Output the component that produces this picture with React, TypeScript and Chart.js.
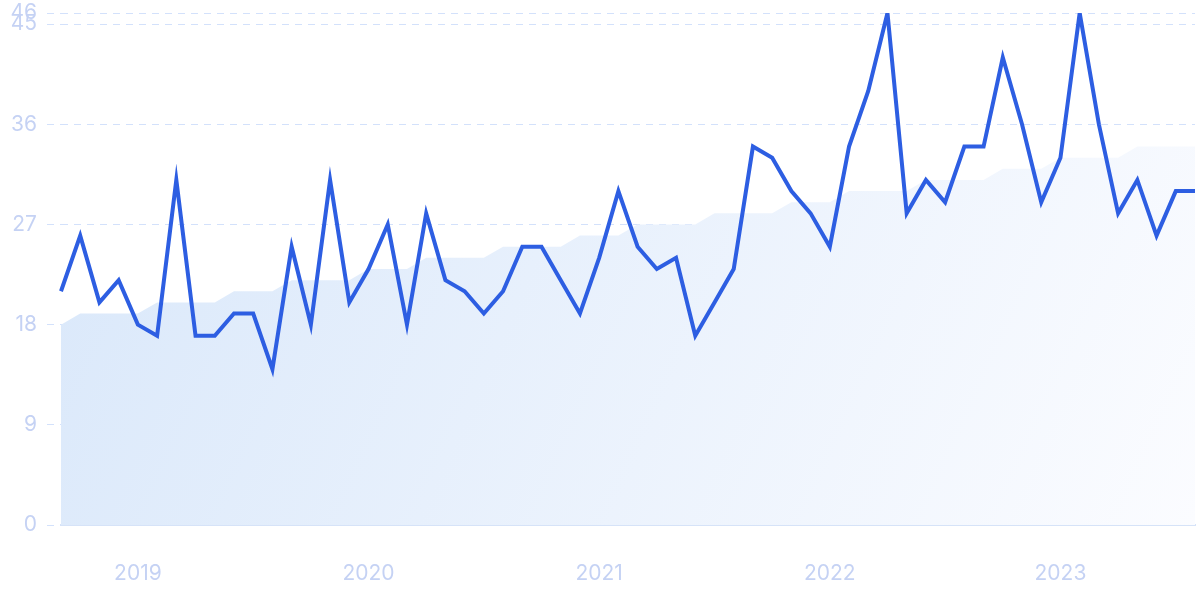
import { useEffect, useRef } from 'react';
import { Chart, registerables } from 'chart.js';

Chart.register(...registerables);

// monthly labels, Sep 2018 .. Aug 2023
const months: string[] = [
  '2018-09', '2018-10', '2018-11', '2018-12',
  '2019-01', '2019-02', '2019-03', '2019-04', '2019-05', '2019-06', '2019-07', '2019-08', '2019-09', '2019-10', '2019-11', '2019-12',
  '2020-01', '2020-02', '2020-03', '2020-04', '2020-05', '2020-06', '2020-07', '2020-08', '2020-09', '2020-10', '2020-11', '2020-12',
  '2021-01', '2021-02', '2021-03', '2021-04', '2021-05', '2021-06', '2021-07', '2021-08', '2021-09', '2021-10', '2021-11', '2021-12',
  '2022-01', '2022-02', '2022-03', '2022-04', '2022-05', '2022-06', '2022-07', '2022-08', '2022-09', '2022-10', '2022-11', '2022-12',
  '2023-01', '2023-02', '2023-03', '2023-04', '2023-05', '2023-06', '2023-07', '2023-08',
];

const searches: number[] = [
  21, 26, 20, 22,
  18, 17, 31, 17, 17, 19, 19, 14, 25, 18, 31, 20,
  23, 27, 18, 28, 22, 21, 19, 21, 25, 25, 22, 19,
  24, 30, 25, 23, 24, 17, 20, 23, 34, 33, 30, 28,
  25, 34, 39, 46, 28, 31, 29, 34, 34, 42, 36, 29,
  33, 46, 36, 28, 31, 26, 30, 30,
];

const trend: number[] = [
  18, 19, 19, 19,
  19, 20, 20, 20, 20, 21, 21, 21, 22, 22, 22, 22,
  23, 23, 23, 24, 24, 24, 24, 25, 25, 25, 25, 26,
  26, 26, 27, 27, 27, 27, 28, 28, 28, 28, 29, 29,
  29, 30, 30, 30, 30, 31, 31, 31, 31, 32, 32, 32,
  33, 33, 33, 33, 34, 34, 34, 34,
];

const yTicks: number[] = [0, 9, 18, 27, 36, 45, 46];

const LABEL_COLOR = '#c5d2f4';
const GRID_COLOR = '#d3e1fb';
const LINE_COLOR = '#2d5ee2';

export default function App() {
  const canvasRef = useRef<HTMLCanvasElement | null>(null);
  const chartRef = useRef<Chart | null>(null);

  useEffect(() => {
    if (!canvasRef.current) return;
    const ctx = canvasRef.current.getContext('2d');
    if (!ctx) return;

    chartRef.current = new Chart(ctx, {
      type: 'line',
      data: {
        labels: months,
        datasets: [
          {
            label: 'Searches',
            data: searches,
            borderColor: LINE_COLOR,
            borderWidth: 4,
            pointRadius: 0,
            tension: 0,
            fill: false,
            order: 0,
          },
          {
            label: 'Trend',
            data: trend,
            borderWidth: 0,
            borderColor: 'rgba(0,0,0,0)',
            pointRadius: 0,
            tension: 0,
            fill: 'origin',
            order: 1,
            backgroundColor: (c: any) => {
              const area = c.chart.chartArea;
              if (!area) return 'rgba(220,233,250,1)';
              const g = c.chart.ctx.createLinearGradient(area.left, area.top, area.right, area.bottom);
              g.addColorStop(0, 'rgba(216,231,250,1)');
              g.addColorStop(1, 'rgba(251,252,255,1)');
              return g;
            },
          },
        ],
      },
      options: {
        animation: false,
        responsive: true,
        maintainAspectRatio: false,
        layout: { padding: { top: 13, right: 5, left: 0, bottom: 0 } },
        plugins: {
          legend: { display: false },
          tooltip: { enabled: false },
        },
        scales: {
          x: {
            grid: { display: false, drawTicks: false },
            border: { display: true, color: '#d6e3f8', width: 2 },
            afterFit: (scale: any) => {
              scale.height = 75;
              scale.paddingLeft = 0;
              scale.paddingRight = 0;
            },
            ticks: {
              autoSkip: false,
              maxRotation: 0,
              padding: 36,
              color: LABEL_COLOR,
              font: { family: 'Inter', size: 21 },
              callback: (_v: any, idx: number) => {
                const m = months[idx];
                return m.endsWith('-01') ? m.slice(0, 4) : null;
              },
            },
          },
          y: {
            min: 0,
            max: 46,
            afterBuildTicks: (scale: any) => {
              scale.ticks = yTicks.map((v) => ({ value: v }));
            },
            afterFit: (scale: any) => {
              scale.width = 61;
              scale.paddingTop = 0;
              scale.paddingBottom = 0;
            },
            grid: {
              color: GRID_COLOR,
              lineWidth: 1,
              tickLength: 14,
              tickBorderDash: [7, 6],
            },
            border: { display: false, dash: [7, 6] },
            ticks: {
              padding: 10,
              color: LABEL_COLOR,
              font: { family: 'Inter', size: 21 },
            },
          },
        },
      },
    });

    return () => {
      if (chartRef.current) {
        chartRef.current.destroy();
        chartRef.current = null;
      }
    };
  }, []);

  return (
    <div style={{ position: 'absolute', left: 0, top: 0, width: 1200, height: 600, background: '#fff' }}>
      <canvas ref={canvasRef} />
    </div>
  );
}
